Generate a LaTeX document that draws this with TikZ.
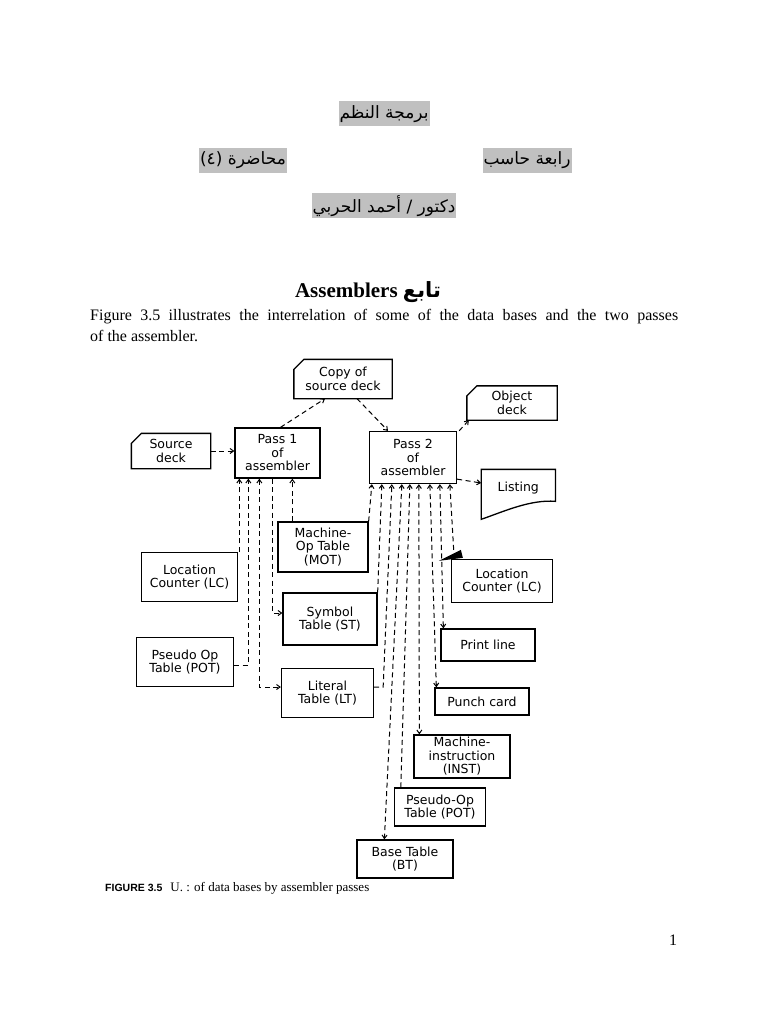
\documentclass[tikz,border=0pt]{standalone}
\usepackage{fontspec}
\setmainfont{Liberation Serif}
\newfontfamily\figfont{DejaVu Sans}
\newfontfamily\capfont{Liberation Sans}
\newfontfamily\arabicfont[Script=Arabic]{DejaVu Sans}
\TeXXeTstate=1
\usetikzlibrary{positioning,arrows.meta,calc}
\definecolor{hlgray}{RGB}{192,192,192}
\tikzset{
  barb/.tip={Straight Barb[length=3.5pt,width=5pt]},
  hdrmark/.style={fill=hlgray, inner xsep=1pt, inner ysep=0pt, minimum height=25pt,
                font=\arabicfont\fontsize{17}{20}\selectfont},
  boxline/.style={line width=1.3pt},
  dbox/.style={rectangle, draw, boxline, align=center, inner sep=1pt,
                font=\figfont\fontsize{12.5}{13.5}\selectfont},
  cardbox/.style={dbox, draw=none},
  dflow/.style={draw, line width=1pt, dash pattern=on 5pt off 3.5pt},
}

\begin{document}
\begin{tikzpicture}[x=1pt,y=-1pt]
\fill[white] (0,0) rectangle (768,1024);
% heading lines
\node[hdrmark] (hdrtitle) at (384,114) {\beginR برمجة النظم\endR};
\node[hdrmark] (hdrlect) at (243,160.5) {(٤) \beginR محاضرة\endR};
\node[hdrmark] (hdrclass) at (527,160.5) {\beginR رابعة حاسب\endR};
\node[hdrmark] (hdrdoc) at (384,206) {\beginR دكتور / أحمد الحربي\endR};
\node[font=\bfseries\fontsize{21}{24}\selectfont, anchor=base] (title) at (368,297)
  {Assemblers {\arabicfont\beginR تابع\endR}};
\node[font=\fontsize{16}{20}\selectfont, anchor=base west, inner sep=0pt] (txta) at (90,320)
  {\makebox[588pt][s]{Figure 3.5 illustrates the interrelation of some of the data bases and the two passes}};
\node[font=\fontsize{16}{20}\selectfont, anchor=base west, inner sep=0pt] (txtb) at (90,341) {of the assembler.};

% decks and passes
\node[cardbox, minimum width=97pt, minimum height=38pt] (copy) at (343,379) {Copy of\\source deck};
\node[cardbox, minimum width=89pt, minimum height=33pt] (objdeck) at (512,403) {Object\\deck};
\node[cardbox, minimum width=78pt, minimum height=34pt] (srcdeck) at (171,451) {Source\\deck};
\foreach \c in {copy,objdeck,srcdeck}
  \draw[boxline] ($(\c.north west)+(10,0)$) -- (\c.north east) -- (\c.south east)
    -- (\c.south west) -- ($(\c.north west)+(0,10)$) -- cycle;
\node[dbox, minimum width=85pt, minimum height=50pt] (pass1) at (277.5,453) {Pass 1\\of\\assembler};
\node[dbox, minimum width=87pt, minimum height=52pt] (pass2) at (413,457.5) {Pass 2\\of\\assembler};
\node[cardbox, minimum width=73pt, minimum height=36pt] (listing) at (518.3,488) {Listing};
\coordinate (lstR) at ($(listing.north east)+(0,32)$);
\coordinate (lstL) at ($(listing.north west)+(0,50)$);
\draw[boxline] (listing.north west) -- (listing.north east) -- (lstR)
  .. controls +(-25,-2) and +(23,-8) .. (lstL) -- cycle;

% tables
\node[dbox, minimum width=90pt, minimum height=50pt] (MOT) at (323,547) {Machine-\\Op Table\\(MOT)};
\node[dbox, minimum width=96pt, minimum height=49pt] (LCa) at (189.5,577) {Location\\Counter (LC)};
\node[dbox, minimum width=94pt, minimum height=52pt] (ST) at (330,619) {Symbol\\Table (ST)};
\node[dbox, minimum width=97pt, minimum height=49pt] (POTa) at (185,662) {Pseudo Op\\Table (POT)};
\node[dbox, minimum width=92pt, minimum height=49pt] (LT) at (327.5,693) {Literal\\Table (LT)};
\node[dbox, minimum width=101pt, minimum height=43pt] (LCb) at (502,581) {Location\\Counter (LC)};
\node[dbox, minimum width=94pt, minimum height=32pt] (print) at (488,645) {Print line};
\node[dbox, minimum width=94pt, minimum height=27pt] (punch) at (482,701.5) {Punch card};
\node[dbox, minimum width=96pt, minimum height=43pt] (INST) at (462,756.5) {Machine-\\instruction\\(INST)};
\node[dbox, minimum width=91pt, minimum height=38pt] (POTb) at (440,807) {Pseudo-Op\\Table (POT)};
\node[dbox, minimum width=96pt, minimum height=38pt] (BT) at (405,859) {Base Table\\(BT)};

% deck flow
\draw[dflow,-barb] (srcdeck.east) -- (pass1.west |- srcdeck.east);
\draw[dflow,-barb] ([xshift=3pt]pass1.north) -- ([xshift=-18pt]copy.south);
\draw[dflow,-barb] ([xshift=14pt]copy.south) -- ([xshift=-25pt]pass2.north);
\draw[dflow,-barb] ([xshift=2pt]pass2.north east) -- ([xshift=2pt]objdeck.south west);
\draw[dflow,-barb] ([yshift=5pt]pass2.south east) -- ([yshift=5pt]listing.west);

% pass 1 data bases
\foreach \n/\dx in {lc/5,pot/14,lt/25,st/38,mot/58}
  \coordinate (p1\n) at ($(pass1.south west)+(\dx,0)$);
\draw[dflow,-barb] (LCa.north -| p1lc) -- (p1lc);
\draw[dflow,-barb] ([yshift=-3pt]POTa.east) -| (p1pot);
\draw[dflow,barb-barb] (p1lt) |- ([yshift=6pt]LT.west);
\draw[dflow,-barb] (p1st) |- ([yshift=6pt]ST.west);
\draw[dflow,-barb] (MOT.north -| p1mot) -- (p1mot);

% pass 2 data bases
\foreach \n/\dx in {mot/3,st/13,lt/23,bt/33,pot/41,inst/50,pch/61,prt/71,lc/81}
  \coordinate (p2\n) at ($(pass2.south west)+(\dx,0)$);
\draw[dflow,-barb] (MOT.north east) -- (p2mot);
\draw[dflow,-barb] (ST.north east) -- (p2st);
\draw[dflow,-barb] ([yshift=6pt]LT.east) -- ++(9,0) -- (p2lt);
\draw[dflow,barb-barb] (p2bt) -- ($(BT.north west)+(28,0)$);
\draw[dflow,-barb] ($(POTb.north west)+(7,0)$) -- (p2pot);
\draw[dflow,barb-barb] (p2inst) -- ($(INST.north west)+(6,0)$);
\draw[dflow,barb-barb] (p2pch) -- ($(punch.north west)+(2,0)$);
\draw[dflow,barb-barb] (p2prt) -- ($(print.north west)+(3,0)$);
\draw[dflow,barb-] (p2lc) -- ($(LCb.north west)+(3,-6)$);
\fill ($(LCb.north west)+(-12,2)$) -- ($(LCb.north west)+(10,-9)$)
  -- ($(LCb.north west)+(12,-1)$) -- cycle;

\node[anchor=base west, inner sep=0pt] (caption) at (105,891)
  {{\capfont\bfseries\fontsize{10.5}{12}\selectfont FIGURE 3.5}\hspace{8pt}{\fontsize{13}{15}\selectfont U. : of data bases by assembler passes}};
\node[font=\fontsize{16}{18}\selectfont] (pagenum) at (673,940) {1};
\end{tikzpicture}
\end{document}
